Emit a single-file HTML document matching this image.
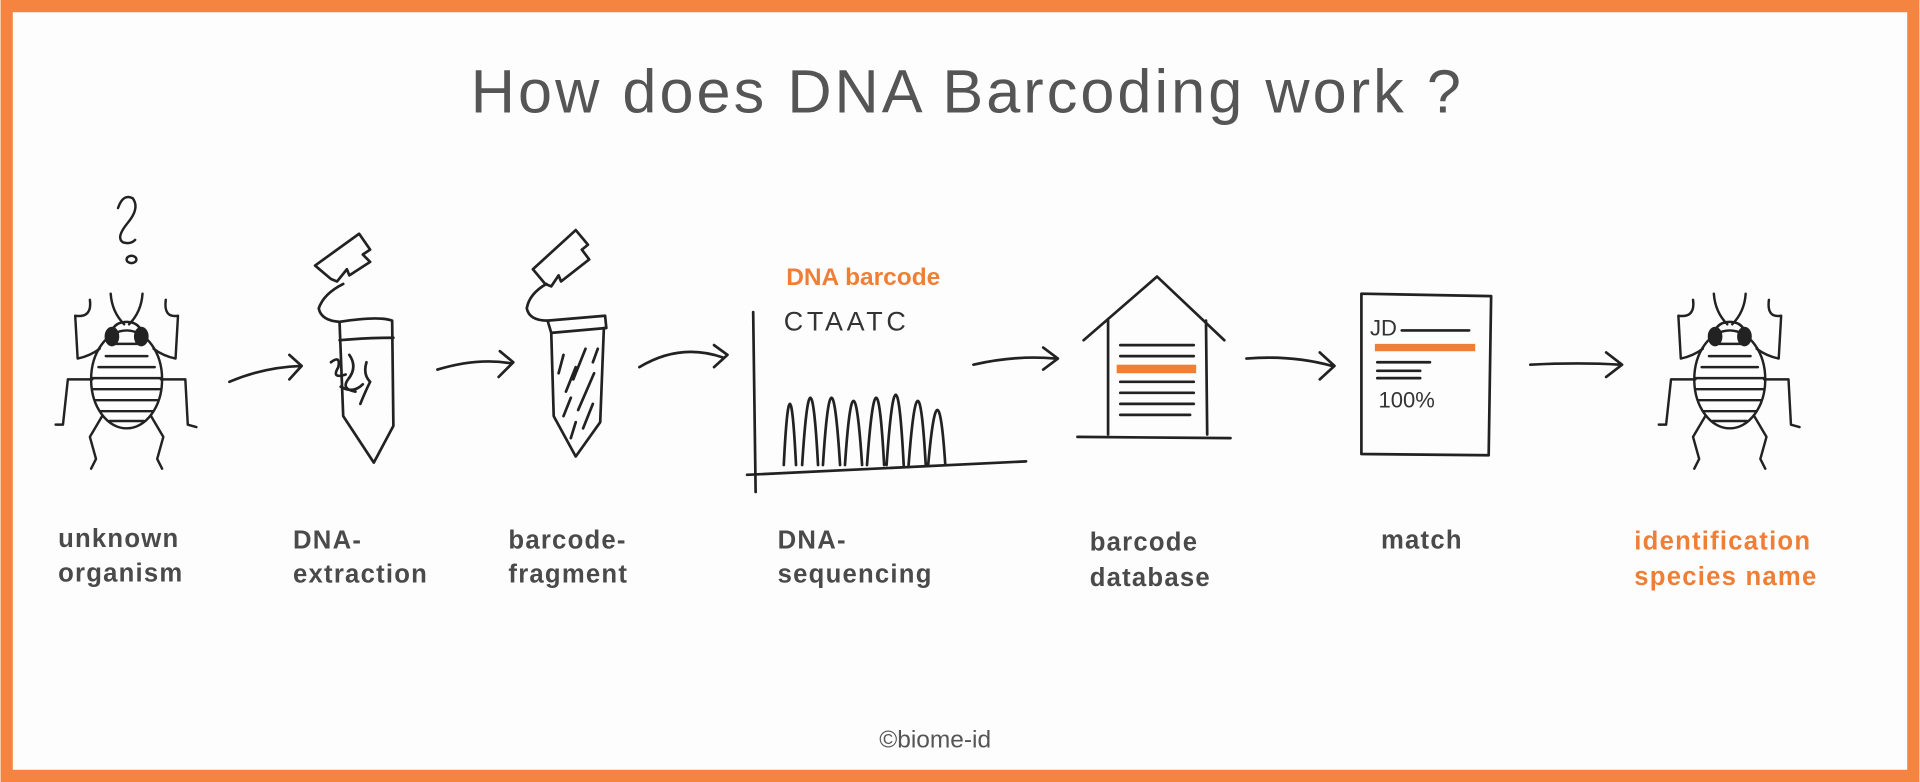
<!DOCTYPE html>
<html><head><meta charset="utf-8"><style>
html,body{margin:0;padding:0;background:#fff;}
svg{display:block;}
.lab{font-family:"Liberation Sans",sans-serif;font-weight:bold;font-size:21px;fill:#4a4a4a;letter-spacing:1px;}
.or{fill:#ef7f36;}
</style></head><body>
<svg width="1920" height="782" viewBox="0 0 1568 639" xmlns="http://www.w3.org/2000/svg">
<defs>
<g id="beetle" fill="none" stroke="#222" stroke-width="2" stroke-linecap="round" stroke-linejoin="round">
<path d="M-30 -60 Q-28 -45 -42 -47 L-40 -12 Q-30 -14 -22 -20"/>
<path d="M-13 -65 Q-12 -50 -2 -40"/>
<path d="M13 -65 Q12 -50 2 -40"/>
<path d="M32 -60 Q30 -45 42 -47 L40 -12 Q30 -14 22 -20"/>
<path d="M-28 5 L-48 5 L-52 42 L-58 42"/>
<path d="M28 5 L48 5 L50 42 L57 44"/>
<path d="M-20 35 L-30 52 L-25 70 L-29 78"/>
<path d="M20 35 L30 52 L25 70 L29 78"/>
<ellipse cx="0" cy="5" rx="29" ry="40"/>
<path d="M-14 -24 Q-14 -42 0 -42 Q14 -42 14 -24 Z"/>
<path d="M-23 -5 H23 M-28 4 H28 M-28 13 H28 M-26 22 H26 M-22 31 H22 M-14 39 H14 M-17 -14 H17"/>
<ellipse cx="-12" cy="-30" rx="5" ry="7" fill="#222"/>
<ellipse cx="12" cy="-30" rx="5" ry="7" fill="#222"/>
</g>
</defs>
<rect x="0" y="0" width="1568" height="639" fill="#f4843f"/>
<rect x="10" y="10" width="1548" height="619" fill="#fdfdfd"/>
<text x="790" y="92" text-anchor="middle" font-family="Liberation Sans,sans-serif" font-size="50" fill="#555" letter-spacing="2.5">How does DNA Barcoding work ?</text>

<g fill="none" stroke="#222" stroke-width="2" stroke-linecap="round">
<path d="M96 170 Q100 158 108 162 Q114 170 104 182 Q94 194 100 198 Q106 200 110 196"/>
<ellipse cx="107" cy="212" rx="4" ry="3"/>
</g>
<use href="#beetle" x="103" y="305"/>
<use href="#beetle" x="1413" y="305"/>

<g fill="none" stroke="#222" stroke-width="2.2" stroke-linecap="round" stroke-linejoin="round">
<path d="M187 312 Q215 300 246 299 M236 290 L246 299 L236 310"/>
<path d="M357 302 Q390 292 418 297 M408 287 L419 296 L407 308"/>
<path d="M522 300 Q555 280 590 292 M583 282 L594 290 L583 300"/>
<path d="M795 298 Q830 290 862 293 M852 284 L864 293 L852 302"/>
<path d="M1018 293 Q1055 290 1088 299 M1078 288 L1090 299 L1078 310"/>
<path d="M1250 298 Q1290 296 1323 298 M1312 288 L1325 298 L1312 308"/>
<path d="M277 263 Q309 258 320 262 L321 348 L305 378 L280 340 Z"/>
<path d="M277 278 Q300 276 321 276"/>
<path d="M277 263 Q262 262 260 252 Q264 240 280 232"/>
<path d="M270 228 L257 217 L293 191 L302 204 L296 208 L302 214 L285 225 L283 220 L275 230 Z"/>
<path d="M270 296 Q278 290 276 300 Q270 310 282 306 M285 290 Q292 300 284 310 Q278 318 290 320 M278 316 Q288 322 296 314 M299 296 Q296 306 302 312 Q298 320 294 330"/>
<path d="M447 262 L494 258 L495 268 L450 272 Z"/>
<path d="M450 272 L452 340 L470 373 L490 345 L493 268"/>
<path d="M447 262 Q432 262 430 252 Q432 240 446 232"/>
<path d="M445 232 L435 220 L470 188 L480 200 L475 204 L481 212 L458 230 L456 225 L450 234 Z"/>
<path d="M460 290 L456 305 M470 300 L462 320 M478 285 L468 310 M485 305 L472 335 M466 325 L460 340 M484 330 L476 350 M488 285 L484 296 M470 345 L466 358"/>
<path d="M615 255 L617 402"/>
<path d="M610 388 L838 377"/>
<path d="M640 380 Q645 280 650 380 M655 380 Q662 270 668 380 M672 380 Q679 270 686 380 M690 380 Q697 275 704 380 M708 380 Q716 270 722 380 M724 380 Q732 265 738 380 M742 380 Q750 275 756 380 M758 380 Q766 290 772 380"/>
<path d="M885 278 L945 226 L1000 278"/>
<path d="M905 262 L905 355 M985 262 L986 355"/>
<path d="M880 357 L1005 358"/>
<path d="M915 282 H975 M915 291 H975 M915 312 H975 M915 321 H975 M915 330 H975 M915 339 H972"/>
<path d="M1112 240 L1218 242 L1216 372 L1112 371 Z"/>
<path d="M1145 270 H1200 M1125 296 H1168 M1125 303 H1160 M1125 309 H1160"/>
</g>
<rect x="912" y="298" width="65" height="7" fill="#ef7f36"/>
<rect x="1123" y="281" width="82" height="6" fill="#ef7f36"/>
<text x="1119" y="274" font-family="Liberation Sans,sans-serif" font-size="18" fill="#333">JD</text>
<text x="1126" y="333" font-family="Liberation Sans,sans-serif" font-size="18" fill="#333">100%</text>
<text x="642" y="233" font-family="Liberation Sans,sans-serif" font-weight="bold" font-size="20" class="or">DNA barcode</text>
<text x="640" y="270" font-family="Liberation Sans,sans-serif" font-size="22" fill="#333" letter-spacing="3">CTAATC</text>

<text class="lab" x="47" y="447">unknown</text><text class="lab" x="47" y="475">organism</text>
<text class="lab" x="239" y="448">DNA-</text><text class="lab" x="239" y="476">extraction</text>
<text class="lab" x="415" y="448">barcode-</text><text class="lab" x="415" y="476">fragment</text>
<text class="lab" x="635" y="448">DNA-</text><text class="lab" x="635" y="476">sequencing</text>
<text class="lab" x="890" y="450">barcode</text><text class="lab" x="890" y="479">database</text>
<text class="lab" x="1128" y="448">match</text>
<text class="lab or" x="1335" y="449">identification</text><text class="lab or" x="1335" y="478">species name</text>
<text x="718" y="611" font-family="Liberation Sans,sans-serif" font-size="20" fill="#555">©biome-id</text>
</svg>
</body></html>
